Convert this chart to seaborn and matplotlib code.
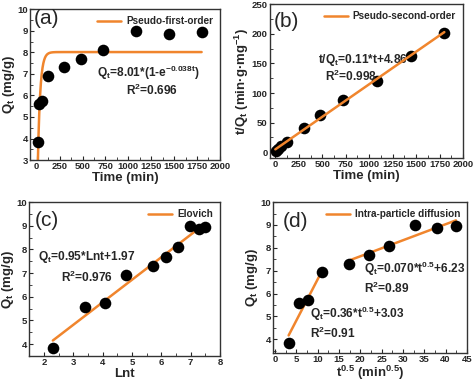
import numpy as np
import seaborn as sns
import matplotlib.pyplot as plt
from matplotlib.ticker import MultipleLocator, AutoMinorLocator

# measured adsorption data
time_min = [10, 30, 60, 120, 300, 480, 720, 1080, 1440, 1800]
qt = [3.85, 5.58, 5.72, 6.92, 7.30, 7.70, 8.10, 8.98, 8.85, 8.95]
t_over_qt = [2.6, 5.4, 10.5, 17.3, 41.1, 62.3, 88.9, 120.3, 162.7, 201.1]
ln_t = [2.30, 3.40, 4.09, 4.79, 5.70, 6.17, 6.58, 6.98, 7.27, 7.50]
sqrt_t = [3.16, 5.48, 7.75, 10.95, 17.32, 21.91, 26.83, 32.86, 37.95, 42.43]

# fitted parameters shown on the chart
pfo_qe, pfo_k = 8.01, 0.038
pso_slope, pso_int = 0.11, 4.86
elo_slope, elo_int = 0.95, 1.97
ipd1_slope, ipd1_int = 0.36, 3.03
ipd2_slope, ipd2_int = 0.070, 6.23

ORANGE = "#F0852D"

sns.set_theme(style="ticks")
plt.rcParams["font.family"] = ["Liberation Sans", "DejaVu Sans"]
plt.rcParams["font.weight"] = "bold"
plt.rcParams["axes.labelweight"] = "bold"
plt.rcParams["mathtext.fontset"] = "custom"
plt.rcParams["mathtext.rm"] = "Liberation Sans:bold"
plt.rcParams["mathtext.it"] = "Liberation Sans:bold"
plt.rcParams["mathtext.bf"] = "Liberation Sans:bold"
plt.rcParams["axes.edgecolor"] = "#333333"
plt.rcParams["axes.linewidth"] = 1.0

fig = plt.figure(figsize=(4.74, 3.82), dpi=100)
ax_a = fig.add_axes([0.064, 0.581, 0.400, 0.395])
ax_b = fig.add_axes([0.569, 0.586, 0.408, 0.403])
ax_c = fig.add_axes([0.062, 0.068, 0.402, 0.403])
ax_d = fig.add_axes([0.576, 0.076, 0.409, 0.395])

LAB = 9.5
TICK = 6.8
ANN = 8.6


def style(ax, xmaj, ymaj):
    ax.xaxis.set_major_locator(MultipleLocator(xmaj))
    ax.yaxis.set_major_locator(MultipleLocator(ymaj))
    ax.xaxis.set_minor_locator(AutoMinorLocator(2))
    ax.yaxis.set_minor_locator(AutoMinorLocator(2))
    ax.tick_params(which="major", direction="in", length=3, width=0.8,
                   labelsize=TICK, pad=1.5)
    ax.tick_params(which="minor", direction="in", length=2, width=0.6)
    for lab in ax.get_xticklabels() + ax.get_yticklabels():
        lab.set_fontweight("bold")
    for sp in ax.spines.values():
        sp.set_visible(True)
    ax.legend(loc="upper right", frameon=False, handlelength=2.4,
              borderaxespad=0.3, handletextpad=0.5,
              prop={"weight": "bold", "size": 7.2})


def dots(ax, x, y):
    sns.scatterplot(x=x, y=y, ax=ax, color="black", s=70, edgecolor="black",
                    linewidth=0, zorder=3)


# (a) pseudo-first-order
t_fit = np.linspace(0, 1800, 600)
q_fit = pfo_qe * (1 - np.exp(-pfo_k * t_fit))
dots(ax_a, time_min, qt)
sns.lineplot(x=t_fit, y=q_fit, ax=ax_a, color=ORANGE, lw=1.8,
             label="Pseudo-first-order", zorder=2)
ax_a.set_xlim(-70, 2000)
ax_a.set_ylim(3, 10)
ax_a.set_xlabel("Time (min)", fontsize=LAB, labelpad=0.5)
ax_a.set_ylabel("Q$_t$ (mg/g)", fontsize=LAB, labelpad=0.5)
style(ax_a, 250, 1)
ax_a.text(0.02, 0.94, "(a)", transform=ax_a.transAxes, fontsize=15,
          fontweight="normal", va="center", ha="left")
ax_a.text(0.62, 0.58, "Q$_t$=8.01*(1-e$^{-0.038t}$)", transform=ax_a.transAxes,
          fontsize=ANN, ha="center", va="center")
ax_a.text(0.64, 0.46, "R$^2$=0.696", transform=ax_a.transAxes,
          fontsize=ANN, ha="center", va="center")

# (b) pseudo-second-order
tb = np.array([0, 1800])
dots(ax_b, time_min, t_over_qt)
sns.lineplot(x=tb, y=pso_slope * tb + pso_int, ax=ax_b, color=ORANGE, lw=1.8,
             label="Pseudo-second-order", zorder=4)
ax_b.set_xlim(-60, 2000)
ax_b.set_ylim(-10, 250)
ax_b.set_xlabel("Time (min)", fontsize=LAB, labelpad=0.5)
ax_b.set_ylabel("t/Q$_t$ (min·g·mg$^{-1}$)", fontsize=LAB, labelpad=0.5)
style(ax_b, 250, 50)
ax_b.text(0.02, 0.89, "(b)", transform=ax_b.transAxes, fontsize=15,
          fontweight="normal", va="center", ha="left")
ax_b.text(0.48, 0.64, "t/Q$_t$=0.11*t+4.86", transform=ax_b.transAxes,
          fontsize=ANN, ha="center", va="center")
ax_b.text(0.42, 0.53, "R$^2$=0.998", transform=ax_b.transAxes,
          fontsize=ANN, ha="center", va="center")

# (c) Elovich
lc = np.array([ln_t[0], ln_t[-1]])
dots(ax_c, ln_t, qt)
sns.lineplot(x=lc, y=elo_slope * lc + elo_int, ax=ax_c, color=ORANGE, lw=1.8,
             label="Elovich", zorder=2)
ax_c.set_xlim(1.5, 8)
ax_c.set_ylim(3.5, 10)
ax_c.set_xlabel("Lnt", fontsize=LAB, labelpad=0.5)
ax_c.set_ylabel("Q$_t$ (mg/g)", fontsize=LAB, labelpad=0.5)
style(ax_c, 1, 1)
ax_c.text(0.03, 0.88, "(c)", transform=ax_c.transAxes, fontsize=15,
          fontweight="normal", va="center", ha="left")
ax_c.text(0.30, 0.64, "Q$_t$=0.95*Lnt+1.97", transform=ax_c.transAxes,
          fontsize=ANN, ha="center", va="center")
ax_c.text(0.30, 0.51, "R$^2$=0.976", transform=ax_c.transAxes,
          fontsize=ANN, ha="center", va="center")

# (d) intra-particle diffusion
s1 = np.array([sqrt_t[0], sqrt_t[3]])
s2 = np.array([sqrt_t[4], sqrt_t[-1]])
dots(ax_d, sqrt_t, qt)
sns.lineplot(x=s1, y=ipd1_slope * s1 + ipd1_int, ax=ax_d, color=ORANGE,
             lw=1.8, label="Intra-particle diffusion", zorder=2)
sns.lineplot(x=s2, y=ipd2_slope * s2 + ipd2_int, ax=ax_d, color=ORANGE,
             lw=1.8, zorder=2)
ax_d.set_xlim(-0.5, 45)
ax_d.set_ylim(3.4, 10)
ax_d.set_xlabel("t$^{0.5}$ (min$^{0.5}$)", fontsize=LAB, labelpad=0)
ax_d.set_ylabel("Q$_t$ (mg/g)", fontsize=LAB, labelpad=0.5)
style(ax_d, 5, 1)
ax_d.text(0.05, 0.87, "(d)", transform=ax_d.transAxes, fontsize=15,
          fontweight="normal", va="center", ha="left")
ax_d.text(0.47, 0.56, "Q$_t$=0.070*t$^{0.5}$+6.23", transform=ax_d.transAxes,
          fontsize=ANN, ha="left", va="center")
ax_d.text(0.47, 0.43, "R$^2$=0.89", transform=ax_d.transAxes,
          fontsize=ANN, ha="left", va="center")
ax_d.text(0.19, 0.26, "Q$_t$=0.36*t$^{0.5}$+3.03", transform=ax_d.transAxes,
          fontsize=ANN, ha="left", va="center")
ax_d.text(0.19, 0.13, "R$^2$=0.91", transform=ax_d.transAxes,
          fontsize=ANN, ha="left", va="center")

fig.savefig("out.png", dpi=100)
